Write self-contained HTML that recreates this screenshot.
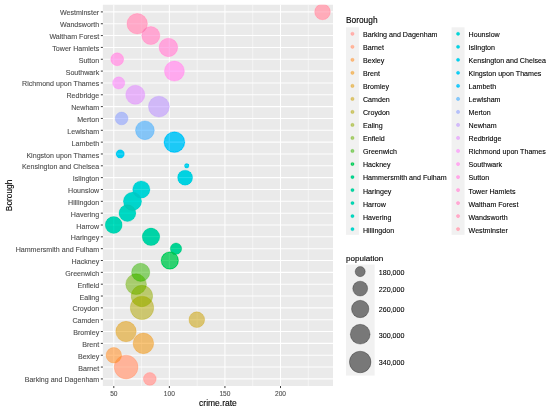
<!DOCTYPE html><html><head><meta charset="utf-8"><style>html,body{margin:0;padding:0;background:#fff;overflow:hidden;}svg{display:block;}text{font-family:"Liberation Sans",Arial,sans-serif;}.s{stroke-width:0.2px;}</style></head><body>
<svg width="550" height="412" viewBox="0 0 550 412">
<defs>
<filter id="cm" filterUnits="userSpaceOnUse" x="0" y="0" width="550" height="412" color-interpolation-filters="sRGB"><feComponentTransfer><feFuncR type="gamma" exponent="2.2"/><feFuncG type="gamma" exponent="2.2"/><feFuncB type="gamma" exponent="2.2"/></feComponentTransfer><feColorMatrix type="matrix" values="1.3982 -0.3982 0 0 0  0 1 0 0 0  0 -0.0429 1.0429 0 0  0 0 0 1 0"/><feComponentTransfer><feFuncR type="gamma" exponent="0.4545"/><feFuncG type="gamma" exponent="0.4545"/><feFuncB type="gamma" exponent="0.4545"/></feComponentTransfer></filter>
<clipPath id="pc"><rect x="102.90" y="4.80" width="230.10" height="381.20"/></clipPath>
</defs>
<g filter="url(#cm)">
<rect x="0" y="0" width="550" height="412" fill="#fff"/>
<rect x="102.9" y="4.8" width="230.10" height="381.20" fill="#EBEBEB"/>
<line x1="141.58" y1="4.8" x2="141.58" y2="386.0" stroke="#fff" stroke-width="0.53"/>
<line x1="197.15" y1="4.8" x2="197.15" y2="386.0" stroke="#fff" stroke-width="0.53"/>
<line x1="252.72" y1="4.8" x2="252.72" y2="386.0" stroke="#fff" stroke-width="0.53"/>
<line x1="308.28" y1="4.8" x2="308.28" y2="386.0" stroke="#fff" stroke-width="0.53"/>
<line x1="113.80" y1="4.8" x2="113.80" y2="386.0" stroke="#fff" stroke-width="1.06"/>
<line x1="169.37" y1="4.8" x2="169.37" y2="386.0" stroke="#fff" stroke-width="1.06"/>
<line x1="224.93" y1="4.8" x2="224.93" y2="386.0" stroke="#fff" stroke-width="1.06"/>
<line x1="280.50" y1="4.8" x2="280.50" y2="386.0" stroke="#fff" stroke-width="1.06"/>
<line x1="102.9" y1="378.90" x2="333.0" y2="378.90" stroke="#fff" stroke-width="1.06"/>
<line x1="102.9" y1="367.06" x2="333.0" y2="367.06" stroke="#fff" stroke-width="1.06"/>
<line x1="102.9" y1="355.22" x2="333.0" y2="355.22" stroke="#fff" stroke-width="1.06"/>
<line x1="102.9" y1="343.38" x2="333.0" y2="343.38" stroke="#fff" stroke-width="1.06"/>
<line x1="102.9" y1="331.54" x2="333.0" y2="331.54" stroke="#fff" stroke-width="1.06"/>
<line x1="102.9" y1="319.70" x2="333.0" y2="319.70" stroke="#fff" stroke-width="1.06"/>
<line x1="102.9" y1="307.87" x2="333.0" y2="307.87" stroke="#fff" stroke-width="1.06"/>
<line x1="102.9" y1="296.03" x2="333.0" y2="296.03" stroke="#fff" stroke-width="1.06"/>
<line x1="102.9" y1="284.19" x2="333.0" y2="284.19" stroke="#fff" stroke-width="1.06"/>
<line x1="102.9" y1="272.35" x2="333.0" y2="272.35" stroke="#fff" stroke-width="1.06"/>
<line x1="102.9" y1="260.51" x2="333.0" y2="260.51" stroke="#fff" stroke-width="1.06"/>
<line x1="102.9" y1="248.67" x2="333.0" y2="248.67" stroke="#fff" stroke-width="1.06"/>
<line x1="102.9" y1="236.83" x2="333.0" y2="236.83" stroke="#fff" stroke-width="1.06"/>
<line x1="102.9" y1="225.00" x2="333.0" y2="225.00" stroke="#fff" stroke-width="1.06"/>
<line x1="102.9" y1="213.16" x2="333.0" y2="213.16" stroke="#fff" stroke-width="1.06"/>
<line x1="102.9" y1="201.32" x2="333.0" y2="201.32" stroke="#fff" stroke-width="1.06"/>
<line x1="102.9" y1="189.48" x2="333.0" y2="189.48" stroke="#fff" stroke-width="1.06"/>
<line x1="102.9" y1="177.64" x2="333.0" y2="177.64" stroke="#fff" stroke-width="1.06"/>
<line x1="102.9" y1="165.80" x2="333.0" y2="165.80" stroke="#fff" stroke-width="1.06"/>
<line x1="102.9" y1="153.97" x2="333.0" y2="153.97" stroke="#fff" stroke-width="1.06"/>
<line x1="102.9" y1="142.13" x2="333.0" y2="142.13" stroke="#fff" stroke-width="1.06"/>
<line x1="102.9" y1="130.29" x2="333.0" y2="130.29" stroke="#fff" stroke-width="1.06"/>
<line x1="102.9" y1="118.45" x2="333.0" y2="118.45" stroke="#fff" stroke-width="1.06"/>
<line x1="102.9" y1="106.61" x2="333.0" y2="106.61" stroke="#fff" stroke-width="1.06"/>
<line x1="102.9" y1="94.77" x2="333.0" y2="94.77" stroke="#fff" stroke-width="1.06"/>
<line x1="102.9" y1="82.93" x2="333.0" y2="82.93" stroke="#fff" stroke-width="1.06"/>
<line x1="102.9" y1="71.10" x2="333.0" y2="71.10" stroke="#fff" stroke-width="1.06"/>
<line x1="102.9" y1="59.26" x2="333.0" y2="59.26" stroke="#fff" stroke-width="1.06"/>
<line x1="102.9" y1="47.42" x2="333.0" y2="47.42" stroke="#fff" stroke-width="1.06"/>
<line x1="102.9" y1="35.58" x2="333.0" y2="35.58" stroke="#fff" stroke-width="1.06"/>
<line x1="102.9" y1="23.74" x2="333.0" y2="23.74" stroke="#fff" stroke-width="1.06"/>
<line x1="102.9" y1="11.90" x2="333.0" y2="11.90" stroke="#fff" stroke-width="1.06"/>
<g clip-path="url(#pc)">
<circle cx="149.80" cy="378.90" r="6.39" fill="#F8766D" fill-opacity="0.5" stroke="#F8766D" stroke-opacity="0.5" stroke-width="0.53"/>
<circle cx="126.10" cy="367.06" r="11.88" fill="#F07E4C" fill-opacity="0.5" stroke="#F07E4C" stroke-opacity="0.5" stroke-width="0.53"/>
<circle cx="113.80" cy="355.22" r="7.74" fill="#E68613" fill-opacity="0.5" stroke="#E68613" stroke-opacity="0.5" stroke-width="0.53"/>
<circle cx="143.40" cy="343.38" r="10.29" fill="#DA8E00" fill-opacity="0.5" stroke="#DA8E00" stroke-opacity="0.5" stroke-width="0.53"/>
<circle cx="126.00" cy="331.54" r="10.18" fill="#CD9600" fill-opacity="0.5" stroke="#CD9600" stroke-opacity="0.5" stroke-width="0.53"/>
<circle cx="196.80" cy="319.70" r="7.83" fill="#BD9D00" fill-opacity="0.5" stroke="#BD9D00" stroke-opacity="0.5" stroke-width="0.53"/>
<circle cx="142.00" cy="307.87" r="11.73" fill="#ABA300" fill-opacity="0.5" stroke="#ABA300" stroke-opacity="0.5" stroke-width="0.53"/>
<circle cx="141.90" cy="296.03" r="10.73" fill="#96A900" fill-opacity="0.5" stroke="#96A900" stroke-opacity="0.5" stroke-width="0.53"/>
<circle cx="136.10" cy="284.19" r="10.33" fill="#7CAE00" fill-opacity="0.5" stroke="#7CAE00" stroke-opacity="0.5" stroke-width="0.53"/>
<circle cx="140.70" cy="272.35" r="9.08" fill="#59B300" fill-opacity="0.5" stroke="#59B300" stroke-opacity="0.5" stroke-width="0.53"/>
<circle cx="169.80" cy="260.51" r="8.73" fill="#0CB702" fill-opacity="0.5" stroke="#0CB702" stroke-opacity="0.5" stroke-width="0.53"/>
<circle cx="176.00" cy="248.67" r="5.69" fill="#00BB46" fill-opacity="0.5" stroke="#00BB46" stroke-opacity="0.5" stroke-width="0.53"/>
<circle cx="151.00" cy="236.83" r="8.73" fill="#00BE67" fill-opacity="0.5" stroke="#00BE67" stroke-opacity="0.5" stroke-width="0.53"/>
<circle cx="113.70" cy="225.00" r="8.43" fill="#00C082" fill-opacity="0.5" stroke="#00C082" stroke-opacity="0.5" stroke-width="0.53"/>
<circle cx="127.40" cy="213.16" r="8.38" fill="#00C19A" fill-opacity="0.5" stroke="#00C19A" stroke-opacity="0.5" stroke-width="0.53"/>
<circle cx="132.50" cy="201.32" r="9.08" fill="#00C0B0" fill-opacity="0.5" stroke="#00C0B0" stroke-opacity="0.5" stroke-width="0.53"/>
<circle cx="141.30" cy="189.48" r="8.58" fill="#00BFC4" fill-opacity="0.5" stroke="#00BFC4" stroke-opacity="0.5" stroke-width="0.53"/>
<circle cx="185.10" cy="177.64" r="7.49" fill="#00BCD7" fill-opacity="0.5" stroke="#00BCD7" stroke-opacity="0.5" stroke-width="0.53"/>
<circle cx="186.70" cy="165.80" r="2.28" fill="#00B8E7" fill-opacity="0.5" stroke="#00B8E7" stroke-opacity="0.5" stroke-width="0.53"/>
<circle cx="120.20" cy="153.97" r="4.14" fill="#00B1F4" fill-opacity="0.5" stroke="#00B1F4" stroke-opacity="0.5" stroke-width="0.53"/>
<circle cx="174.40" cy="142.13" r="10.43" fill="#00A9FF" fill-opacity="0.5" stroke="#00A9FF" stroke-opacity="0.5" stroke-width="0.53"/>
<circle cx="144.90" cy="130.29" r="9.38" fill="#49A0FF" fill-opacity="0.5" stroke="#49A0FF" stroke-opacity="0.5" stroke-width="0.53"/>
<circle cx="121.60" cy="118.45" r="6.39" fill="#8494FF" fill-opacity="0.5" stroke="#8494FF" stroke-opacity="0.5" stroke-width="0.53"/>
<circle cx="158.90" cy="106.61" r="10.43" fill="#AA88FF" fill-opacity="0.5" stroke="#AA88FF" stroke-opacity="0.5" stroke-width="0.53"/>
<circle cx="135.30" cy="94.77" r="9.54" fill="#C77CFF" fill-opacity="0.5" stroke="#C77CFF" stroke-opacity="0.5" stroke-width="0.53"/>
<circle cx="118.70" cy="82.93" r="6.08" fill="#DD71FA" fill-opacity="0.5" stroke="#DD71FA" stroke-opacity="0.5" stroke-width="0.53"/>
<circle cx="174.40" cy="71.10" r="9.98" fill="#ED68ED" fill-opacity="0.5" stroke="#ED68ED" stroke-opacity="0.5" stroke-width="0.53"/>
<circle cx="117.20" cy="59.26" r="6.44" fill="#F862DE" fill-opacity="0.5" stroke="#F862DE" stroke-opacity="0.5" stroke-width="0.53"/>
<circle cx="168.40" cy="47.42" r="9.29" fill="#FF61CC" fill-opacity="0.5" stroke="#FF61CC" stroke-opacity="0.5" stroke-width="0.53"/>
<circle cx="150.80" cy="35.58" r="9.04" fill="#FF63B8" fill-opacity="0.5" stroke="#FF63B8" stroke-opacity="0.5" stroke-width="0.53"/>
<circle cx="137.20" cy="23.74" r="10.23" fill="#FF68A1" fill-opacity="0.5" stroke="#FF68A1" stroke-opacity="0.5" stroke-width="0.53"/>
<circle cx="322.50" cy="11.90" r="7.83" fill="#FE6E88" fill-opacity="0.5" stroke="#FE6E88" stroke-opacity="0.5" stroke-width="0.53"/>
</g>
<rect x="346.0" y="27.3" width="12.9" height="207.52" fill="#F2F2F2"/>
<circle cx="352.45" cy="33.81" r="1.63" fill="#F8766D" fill-opacity="0.5" stroke="#F8766D" stroke-opacity="0.5" stroke-width="0.53"/>
<circle cx="352.45" cy="46.83" r="1.63" fill="#F07E4C" fill-opacity="0.5" stroke="#F07E4C" stroke-opacity="0.5" stroke-width="0.53"/>
<circle cx="352.45" cy="59.85" r="1.63" fill="#E68613" fill-opacity="0.5" stroke="#E68613" stroke-opacity="0.5" stroke-width="0.53"/>
<circle cx="352.45" cy="72.87" r="1.63" fill="#DA8E00" fill-opacity="0.5" stroke="#DA8E00" stroke-opacity="0.5" stroke-width="0.53"/>
<circle cx="352.45" cy="85.89" r="1.63" fill="#CD9600" fill-opacity="0.5" stroke="#CD9600" stroke-opacity="0.5" stroke-width="0.53"/>
<circle cx="352.45" cy="98.91" r="1.63" fill="#BD9D00" fill-opacity="0.5" stroke="#BD9D00" stroke-opacity="0.5" stroke-width="0.53"/>
<circle cx="352.45" cy="111.93" r="1.63" fill="#ABA300" fill-opacity="0.5" stroke="#ABA300" stroke-opacity="0.5" stroke-width="0.53"/>
<circle cx="352.45" cy="124.95" r="1.63" fill="#96A900" fill-opacity="0.5" stroke="#96A900" stroke-opacity="0.5" stroke-width="0.53"/>
<circle cx="352.45" cy="137.97" r="1.63" fill="#7CAE00" fill-opacity="0.5" stroke="#7CAE00" stroke-opacity="0.5" stroke-width="0.53"/>
<circle cx="352.45" cy="150.99" r="1.63" fill="#59B300" fill-opacity="0.5" stroke="#59B300" stroke-opacity="0.5" stroke-width="0.53"/>
<circle cx="352.45" cy="164.01" r="1.63" fill="#0CB702" fill-opacity="0.5" stroke="#0CB702" stroke-opacity="0.5" stroke-width="0.53"/>
<circle cx="352.45" cy="177.03" r="1.63" fill="#00BB46" fill-opacity="0.5" stroke="#00BB46" stroke-opacity="0.5" stroke-width="0.53"/>
<circle cx="352.45" cy="190.05" r="1.63" fill="#00BE67" fill-opacity="0.5" stroke="#00BE67" stroke-opacity="0.5" stroke-width="0.53"/>
<circle cx="352.45" cy="203.07" r="1.63" fill="#00C082" fill-opacity="0.5" stroke="#00C082" stroke-opacity="0.5" stroke-width="0.53"/>
<circle cx="352.45" cy="216.09" r="1.63" fill="#00C19A" fill-opacity="0.5" stroke="#00C19A" stroke-opacity="0.5" stroke-width="0.53"/>
<circle cx="352.45" cy="229.11" r="1.63" fill="#00C0B0" fill-opacity="0.5" stroke="#00C0B0" stroke-opacity="0.5" stroke-width="0.53"/>
<rect x="451.6" y="27.3" width="12.9" height="207.52" fill="#F2F2F2"/>
<circle cx="458.05" cy="33.81" r="1.63" fill="#00BFC4" fill-opacity="0.5" stroke="#00BFC4" stroke-opacity="0.5" stroke-width="0.53"/>
<circle cx="458.05" cy="46.83" r="1.63" fill="#00BCD7" fill-opacity="0.5" stroke="#00BCD7" stroke-opacity="0.5" stroke-width="0.53"/>
<circle cx="458.05" cy="59.85" r="1.63" fill="#00B8E7" fill-opacity="0.5" stroke="#00B8E7" stroke-opacity="0.5" stroke-width="0.53"/>
<circle cx="458.05" cy="72.87" r="1.63" fill="#00B1F4" fill-opacity="0.5" stroke="#00B1F4" stroke-opacity="0.5" stroke-width="0.53"/>
<circle cx="458.05" cy="85.89" r="1.63" fill="#00A9FF" fill-opacity="0.5" stroke="#00A9FF" stroke-opacity="0.5" stroke-width="0.53"/>
<circle cx="458.05" cy="98.91" r="1.63" fill="#49A0FF" fill-opacity="0.5" stroke="#49A0FF" stroke-opacity="0.5" stroke-width="0.53"/>
<circle cx="458.05" cy="111.93" r="1.63" fill="#8494FF" fill-opacity="0.5" stroke="#8494FF" stroke-opacity="0.5" stroke-width="0.53"/>
<circle cx="458.05" cy="124.95" r="1.63" fill="#AA88FF" fill-opacity="0.5" stroke="#AA88FF" stroke-opacity="0.5" stroke-width="0.53"/>
<circle cx="458.05" cy="137.97" r="1.63" fill="#C77CFF" fill-opacity="0.5" stroke="#C77CFF" stroke-opacity="0.5" stroke-width="0.53"/>
<circle cx="458.05" cy="150.99" r="1.63" fill="#DD71FA" fill-opacity="0.5" stroke="#DD71FA" stroke-opacity="0.5" stroke-width="0.53"/>
<circle cx="458.05" cy="164.01" r="1.63" fill="#ED68ED" fill-opacity="0.5" stroke="#ED68ED" stroke-opacity="0.5" stroke-width="0.53"/>
<circle cx="458.05" cy="177.03" r="1.63" fill="#F862DE" fill-opacity="0.5" stroke="#F862DE" stroke-opacity="0.5" stroke-width="0.53"/>
<circle cx="458.05" cy="190.05" r="1.63" fill="#FF61CC" fill-opacity="0.5" stroke="#FF61CC" stroke-opacity="0.5" stroke-width="0.53"/>
<circle cx="458.05" cy="203.07" r="1.63" fill="#FF63B8" fill-opacity="0.5" stroke="#FF63B8" stroke-opacity="0.5" stroke-width="0.53"/>
<circle cx="458.05" cy="216.09" r="1.63" fill="#FF68A1" fill-opacity="0.5" stroke="#FF68A1" stroke-opacity="0.5" stroke-width="0.53"/>
<circle cx="458.05" cy="229.11" r="1.63" fill="#FE6E88" fill-opacity="0.5" stroke="#FE6E88" stroke-opacity="0.5" stroke-width="0.53"/>
<rect x="346" y="264.6" width="28.6" height="110.90" fill="#F2F2F2"/>
<circle cx="360.2" cy="271.6" r="5.04" fill="#000" fill-opacity="0.5" stroke="#000" stroke-opacity="0.5" stroke-width="0.53"/>
<circle cx="360.2" cy="288.6" r="7.44" fill="#000" fill-opacity="0.5" stroke="#000" stroke-opacity="0.5" stroke-width="0.53"/>
<circle cx="360.2" cy="309.0" r="8.68" fill="#000" fill-opacity="0.5" stroke="#000" stroke-opacity="0.5" stroke-width="0.53"/>
<circle cx="360.2" cy="334.2" r="9.88" fill="#000" fill-opacity="0.5" stroke="#000" stroke-opacity="0.5" stroke-width="0.53"/>
<circle cx="360.2" cy="362.0" r="10.79" fill="#000" fill-opacity="0.5" stroke="#000" stroke-opacity="0.5" stroke-width="0.53"/>
</g>
<line x1="100.85" y1="378.90" x2="102.9" y2="378.90" stroke="#333" stroke-width="0.95"/>
<text x="99.21" y="382.45" font-size="7.1" fill="#4D4D4D" stroke="#4D4D4D" stroke-width="0.1" text-anchor="end">Barking and Dagenham</text>
<line x1="100.85" y1="367.06" x2="102.9" y2="367.06" stroke="#333" stroke-width="0.95"/>
<text x="99.21" y="370.61" font-size="7.1" fill="#4D4D4D" stroke="#4D4D4D" stroke-width="0.1" text-anchor="end">Barnet</text>
<line x1="100.85" y1="355.22" x2="102.9" y2="355.22" stroke="#333" stroke-width="0.95"/>
<text x="99.21" y="358.77" font-size="7.1" fill="#4D4D4D" stroke="#4D4D4D" stroke-width="0.1" text-anchor="end">Bexley</text>
<line x1="100.85" y1="343.38" x2="102.9" y2="343.38" stroke="#333" stroke-width="0.95"/>
<text x="99.21" y="346.93" font-size="7.1" fill="#4D4D4D" stroke="#4D4D4D" stroke-width="0.1" text-anchor="end">Brent</text>
<line x1="100.85" y1="331.54" x2="102.9" y2="331.54" stroke="#333" stroke-width="0.95"/>
<text x="99.21" y="335.09" font-size="7.1" fill="#4D4D4D" stroke="#4D4D4D" stroke-width="0.1" text-anchor="end">Bromley</text>
<line x1="100.85" y1="319.70" x2="102.9" y2="319.70" stroke="#333" stroke-width="0.95"/>
<text x="99.21" y="323.25" font-size="7.1" fill="#4D4D4D" stroke="#4D4D4D" stroke-width="0.1" text-anchor="end">Camden</text>
<line x1="100.85" y1="307.87" x2="102.9" y2="307.87" stroke="#333" stroke-width="0.95"/>
<text x="99.21" y="311.42" font-size="7.1" fill="#4D4D4D" stroke="#4D4D4D" stroke-width="0.1" text-anchor="end">Croydon</text>
<line x1="100.85" y1="296.03" x2="102.9" y2="296.03" stroke="#333" stroke-width="0.95"/>
<text x="99.21" y="299.58" font-size="7.1" fill="#4D4D4D" stroke="#4D4D4D" stroke-width="0.1" text-anchor="end">Ealing</text>
<line x1="100.85" y1="284.19" x2="102.9" y2="284.19" stroke="#333" stroke-width="0.95"/>
<text x="99.21" y="287.74" font-size="7.1" fill="#4D4D4D" stroke="#4D4D4D" stroke-width="0.1" text-anchor="end">Enfield</text>
<line x1="100.85" y1="272.35" x2="102.9" y2="272.35" stroke="#333" stroke-width="0.95"/>
<text x="99.21" y="275.90" font-size="7.1" fill="#4D4D4D" stroke="#4D4D4D" stroke-width="0.1" text-anchor="end">Greenwich</text>
<line x1="100.85" y1="260.51" x2="102.9" y2="260.51" stroke="#333" stroke-width="0.95"/>
<text x="99.21" y="264.06" font-size="7.1" fill="#4D4D4D" stroke="#4D4D4D" stroke-width="0.1" text-anchor="end">Hackney</text>
<line x1="100.85" y1="248.67" x2="102.9" y2="248.67" stroke="#333" stroke-width="0.95"/>
<text x="99.21" y="252.22" font-size="7.1" fill="#4D4D4D" stroke="#4D4D4D" stroke-width="0.1" text-anchor="end">Hammersmith and Fulham</text>
<line x1="100.85" y1="236.83" x2="102.9" y2="236.83" stroke="#333" stroke-width="0.95"/>
<text x="99.21" y="240.38" font-size="7.1" fill="#4D4D4D" stroke="#4D4D4D" stroke-width="0.1" text-anchor="end">Haringey</text>
<line x1="100.85" y1="225.00" x2="102.9" y2="225.00" stroke="#333" stroke-width="0.95"/>
<text x="99.21" y="228.55" font-size="7.1" fill="#4D4D4D" stroke="#4D4D4D" stroke-width="0.1" text-anchor="end">Harrow</text>
<line x1="100.85" y1="213.16" x2="102.9" y2="213.16" stroke="#333" stroke-width="0.95"/>
<text x="99.21" y="216.71" font-size="7.1" fill="#4D4D4D" stroke="#4D4D4D" stroke-width="0.1" text-anchor="end">Havering</text>
<line x1="100.85" y1="201.32" x2="102.9" y2="201.32" stroke="#333" stroke-width="0.95"/>
<text x="99.21" y="204.87" font-size="7.1" fill="#4D4D4D" stroke="#4D4D4D" stroke-width="0.1" text-anchor="end">Hillingdon</text>
<line x1="100.85" y1="189.48" x2="102.9" y2="189.48" stroke="#333" stroke-width="0.95"/>
<text x="99.21" y="193.03" font-size="7.1" fill="#4D4D4D" stroke="#4D4D4D" stroke-width="0.1" text-anchor="end">Hounslow</text>
<line x1="100.85" y1="177.64" x2="102.9" y2="177.64" stroke="#333" stroke-width="0.95"/>
<text x="99.21" y="181.19" font-size="7.1" fill="#4D4D4D" stroke="#4D4D4D" stroke-width="0.1" text-anchor="end">Islington</text>
<line x1="100.85" y1="165.80" x2="102.9" y2="165.80" stroke="#333" stroke-width="0.95"/>
<text x="99.21" y="169.35" font-size="7.1" fill="#4D4D4D" stroke="#4D4D4D" stroke-width="0.1" text-anchor="end">Kensington and Chelsea</text>
<line x1="100.85" y1="153.97" x2="102.9" y2="153.97" stroke="#333" stroke-width="0.95"/>
<text x="99.21" y="157.52" font-size="7.1" fill="#4D4D4D" stroke="#4D4D4D" stroke-width="0.1" text-anchor="end">Kingston upon Thames</text>
<line x1="100.85" y1="142.13" x2="102.9" y2="142.13" stroke="#333" stroke-width="0.95"/>
<text x="99.21" y="145.68" font-size="7.1" fill="#4D4D4D" stroke="#4D4D4D" stroke-width="0.1" text-anchor="end">Lambeth</text>
<line x1="100.85" y1="130.29" x2="102.9" y2="130.29" stroke="#333" stroke-width="0.95"/>
<text x="99.21" y="133.84" font-size="7.1" fill="#4D4D4D" stroke="#4D4D4D" stroke-width="0.1" text-anchor="end">Lewisham</text>
<line x1="100.85" y1="118.45" x2="102.9" y2="118.45" stroke="#333" stroke-width="0.95"/>
<text x="99.21" y="122.00" font-size="7.1" fill="#4D4D4D" stroke="#4D4D4D" stroke-width="0.1" text-anchor="end">Merton</text>
<line x1="100.85" y1="106.61" x2="102.9" y2="106.61" stroke="#333" stroke-width="0.95"/>
<text x="99.21" y="110.16" font-size="7.1" fill="#4D4D4D" stroke="#4D4D4D" stroke-width="0.1" text-anchor="end">Newham</text>
<line x1="100.85" y1="94.77" x2="102.9" y2="94.77" stroke="#333" stroke-width="0.95"/>
<text x="99.21" y="98.32" font-size="7.1" fill="#4D4D4D" stroke="#4D4D4D" stroke-width="0.1" text-anchor="end">Redbridge</text>
<line x1="100.85" y1="82.93" x2="102.9" y2="82.93" stroke="#333" stroke-width="0.95"/>
<text x="99.21" y="86.48" font-size="7.1" fill="#4D4D4D" stroke="#4D4D4D" stroke-width="0.1" text-anchor="end">Richmond upon Thames</text>
<line x1="100.85" y1="71.10" x2="102.9" y2="71.10" stroke="#333" stroke-width="0.95"/>
<text x="99.21" y="74.65" font-size="7.1" fill="#4D4D4D" stroke="#4D4D4D" stroke-width="0.1" text-anchor="end">Southwark</text>
<line x1="100.85" y1="59.26" x2="102.9" y2="59.26" stroke="#333" stroke-width="0.95"/>
<text x="99.21" y="62.81" font-size="7.1" fill="#4D4D4D" stroke="#4D4D4D" stroke-width="0.1" text-anchor="end">Sutton</text>
<line x1="100.85" y1="47.42" x2="102.9" y2="47.42" stroke="#333" stroke-width="0.95"/>
<text x="99.21" y="50.97" font-size="7.1" fill="#4D4D4D" stroke="#4D4D4D" stroke-width="0.1" text-anchor="end">Tower Hamlets</text>
<line x1="100.85" y1="35.58" x2="102.9" y2="35.58" stroke="#333" stroke-width="0.95"/>
<text x="99.21" y="39.13" font-size="7.1" fill="#4D4D4D" stroke="#4D4D4D" stroke-width="0.1" text-anchor="end">Waltham Forest</text>
<line x1="100.85" y1="23.74" x2="102.9" y2="23.74" stroke="#333" stroke-width="0.95"/>
<text x="99.21" y="27.29" font-size="7.1" fill="#4D4D4D" stroke="#4D4D4D" stroke-width="0.1" text-anchor="end">Wandsworth</text>
<line x1="100.85" y1="11.90" x2="102.9" y2="11.90" stroke="#333" stroke-width="0.95"/>
<text x="99.21" y="15.45" font-size="7.1" fill="#4D4D4D" stroke="#4D4D4D" stroke-width="0.1" text-anchor="end">Westminster</text>
<line x1="113.80" y1="386.0" x2="113.80" y2="388.05" stroke="#333" stroke-width="0.95"/>
<text x="113.80" y="396.4" font-size="6.6" fill="#4D4D4D" stroke="#4D4D4D" stroke-width="0.1" text-anchor="middle">50</text>
<line x1="169.37" y1="386.0" x2="169.37" y2="388.05" stroke="#333" stroke-width="0.95"/>
<text x="169.37" y="396.4" font-size="6.6" fill="#4D4D4D" stroke="#4D4D4D" stroke-width="0.1" text-anchor="middle">100</text>
<line x1="224.93" y1="386.0" x2="224.93" y2="388.05" stroke="#333" stroke-width="0.95"/>
<text x="224.93" y="396.4" font-size="6.6" fill="#4D4D4D" stroke="#4D4D4D" stroke-width="0.1" text-anchor="middle">150</text>
<line x1="280.50" y1="386.0" x2="280.50" y2="388.05" stroke="#333" stroke-width="0.95"/>
<text x="280.50" y="396.4" font-size="6.6" fill="#4D4D4D" stroke="#4D4D4D" stroke-width="0.1" text-anchor="middle">200</text>
<text x="217.95" y="405.7" font-size="8.5" fill="#000" stroke="#000" stroke-width="0.12" text-anchor="middle">crime.rate</text>
<text transform="translate(11.9,195.40) rotate(-90)" x="0" y="0" font-size="8.35" fill="#000" stroke="#000" stroke-width="0.12" text-anchor="middle">Borough</text>
<text x="346" y="22.6" font-size="8.35" fill="#000" stroke="#000" stroke-width="0.12">Borough</text>
<text x="363.00" y="37.26" font-size="7.1" fill="#000" stroke="#000" stroke-width="0.1">Barking and Dagenham</text>
<text x="363.00" y="50.28" font-size="7.1" fill="#000" stroke="#000" stroke-width="0.1">Barnet</text>
<text x="363.00" y="63.30" font-size="7.1" fill="#000" stroke="#000" stroke-width="0.1">Bexley</text>
<text x="363.00" y="76.32" font-size="7.1" fill="#000" stroke="#000" stroke-width="0.1">Brent</text>
<text x="363.00" y="89.34" font-size="7.1" fill="#000" stroke="#000" stroke-width="0.1">Bromley</text>
<text x="363.00" y="102.36" font-size="7.1" fill="#000" stroke="#000" stroke-width="0.1">Camden</text>
<text x="363.00" y="115.38" font-size="7.1" fill="#000" stroke="#000" stroke-width="0.1">Croydon</text>
<text x="363.00" y="128.40" font-size="7.1" fill="#000" stroke="#000" stroke-width="0.1">Ealing</text>
<text x="363.00" y="141.42" font-size="7.1" fill="#000" stroke="#000" stroke-width="0.1">Enfield</text>
<text x="363.00" y="154.44" font-size="7.1" fill="#000" stroke="#000" stroke-width="0.1">Greenwich</text>
<text x="363.00" y="167.46" font-size="7.1" fill="#000" stroke="#000" stroke-width="0.1">Hackney</text>
<text x="363.00" y="180.48" font-size="7.1" fill="#000" stroke="#000" stroke-width="0.1">Hammersmith and Fulham</text>
<text x="363.00" y="193.50" font-size="7.1" fill="#000" stroke="#000" stroke-width="0.1">Haringey</text>
<text x="363.00" y="206.52" font-size="7.1" fill="#000" stroke="#000" stroke-width="0.1">Harrow</text>
<text x="363.00" y="219.54" font-size="7.1" fill="#000" stroke="#000" stroke-width="0.1">Havering</text>
<text x="363.00" y="232.56" font-size="7.1" fill="#000" stroke="#000" stroke-width="0.1">Hillingdon</text>
<text x="468.60" y="37.26" font-size="7.1" fill="#000" stroke="#000" stroke-width="0.1">Hounslow</text>
<text x="468.60" y="50.28" font-size="7.1" fill="#000" stroke="#000" stroke-width="0.1">Islington</text>
<text x="468.60" y="63.30" font-size="7.1" fill="#000" stroke="#000" stroke-width="0.1">Kensington and Chelsea</text>
<text x="468.60" y="76.32" font-size="7.1" fill="#000" stroke="#000" stroke-width="0.1">Kingston upon Thames</text>
<text x="468.60" y="89.34" font-size="7.1" fill="#000" stroke="#000" stroke-width="0.1">Lambeth</text>
<text x="468.60" y="102.36" font-size="7.1" fill="#000" stroke="#000" stroke-width="0.1">Lewisham</text>
<text x="468.60" y="115.38" font-size="7.1" fill="#000" stroke="#000" stroke-width="0.1">Merton</text>
<text x="468.60" y="128.40" font-size="7.1" fill="#000" stroke="#000" stroke-width="0.1">Newham</text>
<text x="468.60" y="141.42" font-size="7.1" fill="#000" stroke="#000" stroke-width="0.1">Redbridge</text>
<text x="468.60" y="154.44" font-size="7.1" fill="#000" stroke="#000" stroke-width="0.1">Richmond upon Thames</text>
<text x="468.60" y="167.46" font-size="7.1" fill="#000" stroke="#000" stroke-width="0.1">Southwark</text>
<text x="468.60" y="180.48" font-size="7.1" fill="#000" stroke="#000" stroke-width="0.1">Sutton</text>
<text x="468.60" y="193.50" font-size="7.1" fill="#000" stroke="#000" stroke-width="0.1">Tower Hamlets</text>
<text x="468.60" y="206.52" font-size="7.1" fill="#000" stroke="#000" stroke-width="0.1">Waltham Forest</text>
<text x="468.60" y="219.54" font-size="7.1" fill="#000" stroke="#000" stroke-width="0.1">Wandsworth</text>
<text x="468.60" y="232.56" font-size="7.1" fill="#000" stroke="#000" stroke-width="0.1">Westminster</text>
<text x="346" y="260.7" font-size="8.1" fill="#000" stroke="#000" stroke-width="0.12">population</text>
<text x="378.8" y="275.05" font-size="7.1" fill="#000" stroke="#000" stroke-width="0.1">180,000</text>
<text x="378.8" y="292.05" font-size="7.1" fill="#000" stroke="#000" stroke-width="0.1">220,000</text>
<text x="378.8" y="312.45" font-size="7.1" fill="#000" stroke="#000" stroke-width="0.1">260,000</text>
<text x="378.8" y="337.65" font-size="7.1" fill="#000" stroke="#000" stroke-width="0.1">300,000</text>
<text x="378.8" y="365.45" font-size="7.1" fill="#000" stroke="#000" stroke-width="0.1">340,000</text>
</svg></body></html>
